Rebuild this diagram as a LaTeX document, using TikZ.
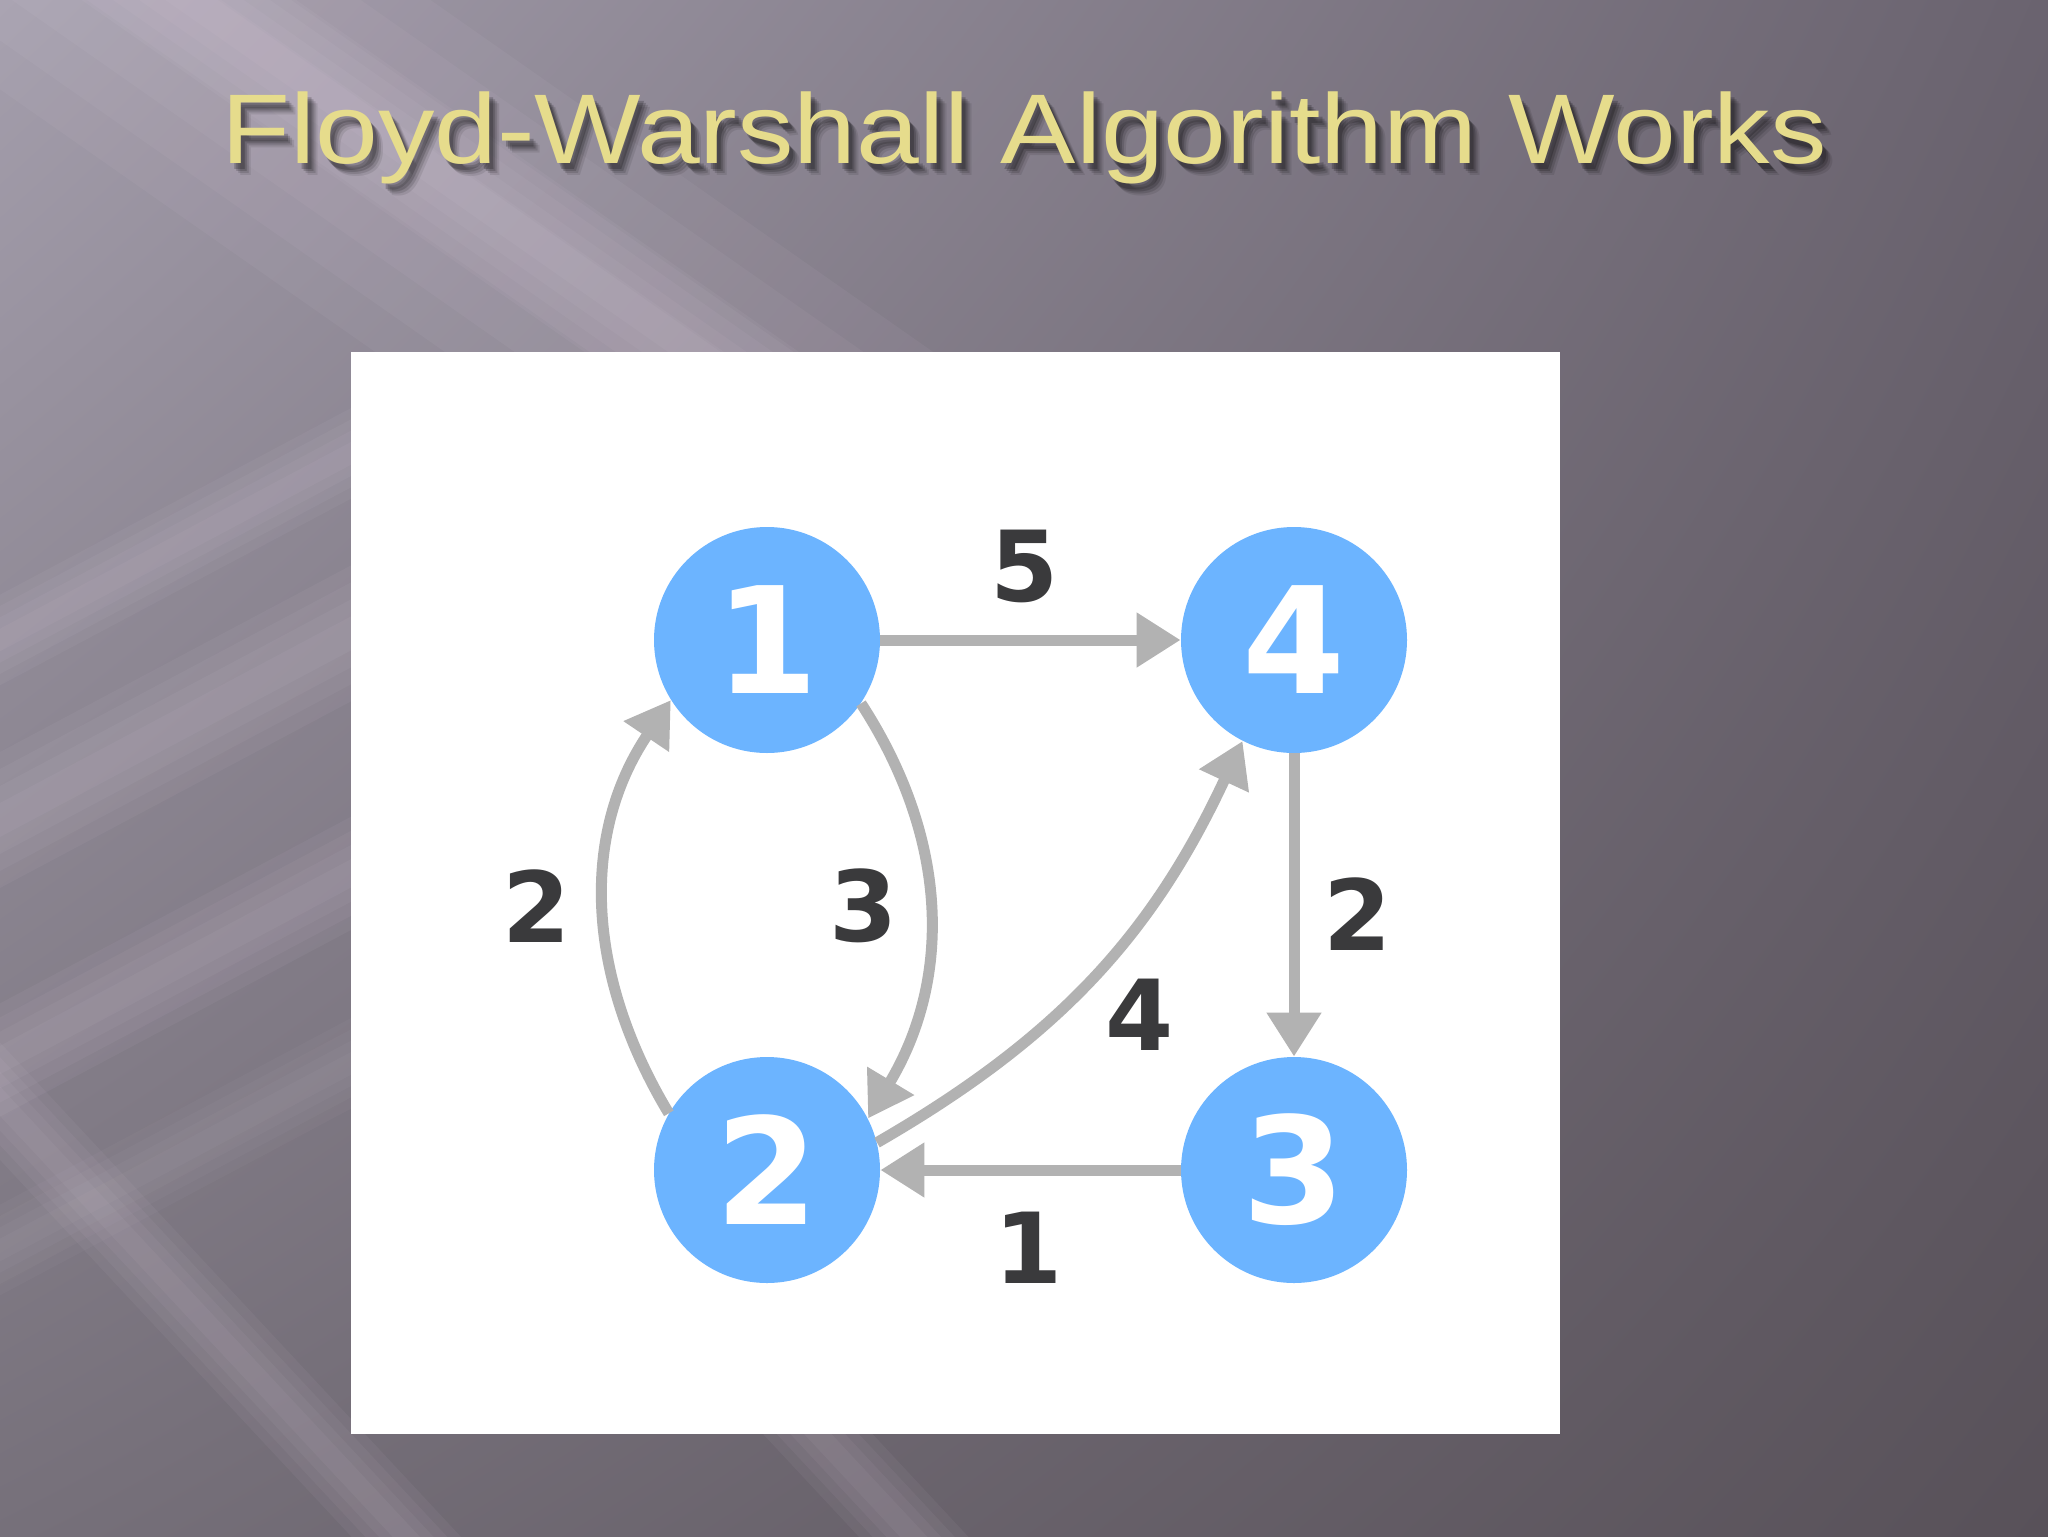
\documentclass[tikz,border=0pt]{standalone}
\usepackage{fontspec}
\setmainfont{DejaVu Sans}
\newfontfamily\titlefont[FakeStretch=1.14]{Liberation Sans}
\newfontfamily\digitfont{DejaVu Sans}
\usetikzlibrary{arrows.meta,shadings}
\definecolor{nodeblue}{RGB}{108,180,255}
\definecolor{edgegray}{RGB}{178,178,178}
\definecolor{labeldark}{RGB}{58,58,60}
\definecolor{titlegold}{RGB}{230,220,140}
\definecolor{bgul}{RGB}{164,158,172}
\definecolor{bgur}{RGB}{106,99,111}
\definecolor{bgll}{RGB}{118,112,122}
\definecolor{bglr}{RGB}{88,81,89}
\definecolor{glow}{RGB}{238,222,240}
\tikzset{
  vert/.style={circle, fill=nodeblue, minimum size=113pt, inner sep=0pt, text=white,
    font=\digitfont\bfseries\fontsize{74}{74}\selectfont},
  wlabel/.style={text=labeldark, inner sep=0pt,
    font=\digitfont\bfseries\fontsize{49}{49}\selectfont},
  conn/.style={draw=edgegray, line width=5.5pt, -{Triangle[length=22pt,width=26pt]}},
  titletext/.style={font=\titlefont\fontsize{49.5}{50}\selectfont, anchor=base, inner sep=0pt}
}
\begin{document}
\begin{tikzpicture}[x=0.5pt,y=0.5pt]
\useasboundingbox (0,0) rectangle (2048,-1536);
% background
\shade[upper left=bgul, upper right=bgur, lower left=bgll, lower right=bglr] (0,0) rectangle (2048,-1536);
\begin{scope}
  \clip (0,0) rectangle (2048,-1536);
  % soft streaks: centre x / centre y / half width / half length / angle / opacity
  \foreach \cx/\cy/\w/\len/\ang/\op in {
      380/-160/160/1000/-35/0.05,
      620/-300/60/700/-35/0.05,
      0/-640/40/520/28/0.05,
      0/-820/60/520/28/0.05,
      0/-1060/50/520/28/0.05,
      0/-1250/40/520/28/0.035,
      260/-1380/40/450/-47/0.05,
      870/-1490/40/200/-47/0.05}{
    \foreach \k in {1,...,4}{
      \fill[glow, fill opacity=\op, rotate around={\ang:(\cx,\cy)}]
        (\cx-\len,\cy-\w*\k/4) rectangle (\cx+\len,\cy+\w*\k/4);
    }
  }
\end{scope}
% title
\foreach \dx/\dy/\op in {10/-12/0.09, 8/-10/0.13, 6/-8/0.17, 4/-6/0.2}{
  \node[titletext, text=black, text opacity=\op] (tshadow\dx) at (1024+\dx,-163+\dy) {Floyd-Warshall Algorithm Works};
}
\node[titletext, text=titlegold] (title) at (1024,-163) {Floyd-Warshall Algorithm Works};
% white panel
\fill[white] (351,-352) rectangle (1560,-1434);
% vertices
\node[vert] (n1) at (767,-640) {1};
\node[vert] (n4) at (1294,-640) {4};
\node[vert] (n2) at (767,-1170) {2};
\node[vert] (n3) at (1294,-1170) {3};
% edges
\draw[conn] (n1) -- (n4);
\draw[conn] (n4) -- (n3);
\draw[conn] (n3) -- (n2);
\draw[conn] (n1.326) to[out=303,in=59,looseness=1] (n2.27);
\draw[conn] (n2.150) to[out=121,in=236,looseness=1] (n1.212);
\draw[conn] (n2.14) to[out=30,in=245] (n4.243);
% weights
\node[wlabel] (w14) at (1025,-566) {5};
\node[wlabel] (w21) at (537,-906) {2};
\node[wlabel] (w12) at (864,-906) {3};
\node[wlabel] (w43) at (1358,-914) {2};
\node[wlabel] (w24) at (1140,-1015) {4};
\node[wlabel] (w32) at (1029,-1248) {1};
\end{tikzpicture}
\end{document}
